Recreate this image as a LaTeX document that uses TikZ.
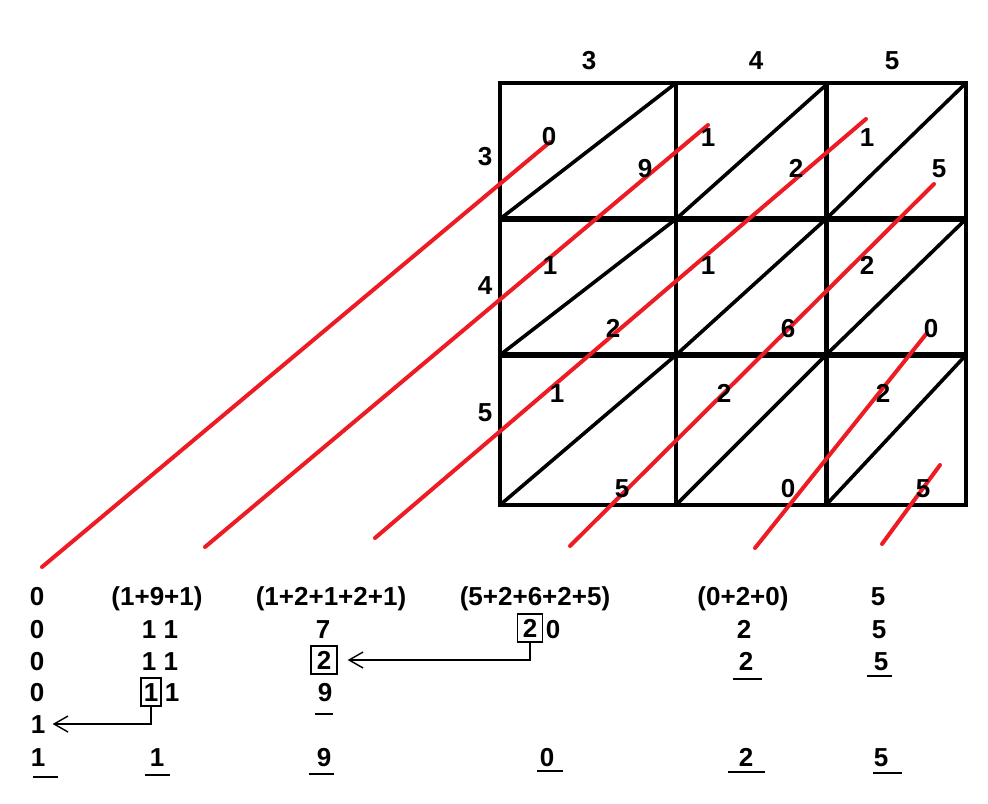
\documentclass[tikz,border=0pt]{standalone}
\usepackage{fontspec}
\setmainfont{Liberation Sans}
\usetikzlibrary{arrows.meta}
\definecolor{paintred}{RGB}{237,28,36}

\begin{document}
\begin{tikzpicture}[x=0.5pt,y=-0.5pt]
\tikzset{digit/.style = {font=\bfseries\fontsize{13}{15}\selectfont, inner sep=0pt, text height=9.3pt, text depth=0pt}}
\tikzset{boxed/.style = {digit, draw, line width=0.7pt, minimum height=14pt}}
\tikzset{edge/.style = {line width=0.7pt, ->, > = {Straight Barb[length=7pt,width=8pt]}}}
\tikzset{grid/.style = {line width=2pt}}
\tikzset{diag/.style = {line width=1.8pt}}
\tikzset{carry/.style = {line width=2pt, paintred, line cap=round}}
\tikzset{under/.style = {line width=0.7pt}}
\useasboundingbox (0,0) rectangle (988,803);
% lattice
\draw[grid] (500,83) rectangle (966,505);
\draw[grid] (676,83) -- (676,505);
\draw[grid, line width=2.5pt] (826,83) -- (826,505);
\draw[grid, line width=3pt] (500,219) -- (966,219);
\draw[grid, line width=3pt] (500,355) -- (966,355);
\draw[diag] (500,219) -- (676,83);
\draw[diag] (676,219) -- (826,85);
\draw[diag] (826,219) -- (966,83);
\draw[diag] (500,355) -- (676,219);
\draw[diag] (676,355) -- (826,219);
\draw[diag] (826,355) -- (966,219);
\draw[diag] (500,505) -- (676,355);
\draw[diag] (676,505) -- (826,355);
\draw[diag] (826,505) -- (966,355);
% diagonal sums
\draw[carry] (42,567) -- (550,142);
\draw[carry] (205,547) -- (708,125);
\draw[carry] (375,538) -- (866,119);
\draw[carry] (570,546) -- (934,184);
\draw[carry] (755,548) -- (927,333);
\draw[carry] (882,544) -- (940,465);
% factors
\node[digit](t3) at (589,60) {3};
\node[digit](t4) at (756,60) {4};
\node[digit](t5) at (892,60) {5};
\node[digit](l3) at (485,156) {3};
\node[digit](l4) at (485,285) {4};
\node[digit](l5) at (485,412) {5};
% cells
\node[digit](p11a) at (549,136) {0};
\node[digit](p11b) at (645,168) {9};
\node[digit](p12a) at (708,137) {1};
\node[digit](p12b) at (796,168) {2};
\node[digit](p13a) at (867,137) {1};
\node[digit](p13b) at (939,168) {5};
\node[digit](p21a) at (550,265) {1};
\node[digit](p21b) at (613,328) {2};
\node[digit](p22a) at (708,265) {1};
\node[digit](p22b) at (788,328) {6};
\node[digit](p23a) at (867,265) {2};
\node[digit](p23b) at (931,328) {0};
\node[digit](p31a) at (557,393) {1};
\node[digit](p31b) at (622,488) {5};
\node[digit](p32a) at (724,393) {2};
\node[digit](p32b) at (788,488) {0};
\node[digit](p33a) at (883,393) {2};
\node[digit](p33b) at (923,488) {5};
% sums
\node[digit](a1) at (37,596) {0};
\node[digit](a2) at (37,629) {0};
\node[digit](a3) at (37,661) {0};
\node[digit](a4) at (37,692) {0};
\node[digit](a5) at (38,724) {1};
\node[digit](a6) at (38,757) {1};
\node[digit](b1) at (157,596) {(1+9+1)};
\node[digit](b2) at (160,629) {1 1};
\node[digit](b3) at (160,661) {1 1};
\node[boxed, minimum width=10pt](b4) at (151,692) {1};
\node[digit](b4r) at (172,692) {1};
\node[digit](b6) at (157,757) {1};
\node[digit](c1) at (331,596) {(1+2+1+2+1)};
\node[digit](c2) at (323,629) {7};
\node[boxed, minimum width=13pt](c3) at (324,660) {2};
\node[digit](c4) at (325,692) {9};
\node[digit](c6) at (324,757) {9};
\node[digit](d1) at (535,596) {(5+2+6+2+5)};
\node[boxed, minimum width=12.5pt](d2) at (530,628) {2};
\node[digit](d2r) at (553,629) {0};
\node[digit](d6) at (547,757) {0};
\node[digit](e1) at (743,596) {(0+2+0)};
\node[digit](e2) at (744,629) {2};
\node[digit](e3) at (746,661) {2};
\node[digit](e6) at (746,757) {2};
\node[digit](f1) at (878,596) {5};
\node[digit](f2) at (879,629) {5};
\node[digit](f3) at (881,661) {5};
\node[digit](f6) at (881,757) {5};
\draw[under] (733,679) -- (762,679);
\draw[under] (867,676) -- (892,676);
\draw[under] (315,714) -- (333,714);
\draw[under] (33,777) -- (58,777);
\draw[under] (145,775) -- (170,775);
\draw[under] (309,774) -- (334,774);
\draw[under] (537,771) -- (563,771);
\draw[under] (728,772) -- (765,772);
\draw[under] (873,773) -- (902,773);
% carries
\draw[edge] (b4.south) |- ([xshift=3.5pt]a5.east);
\draw[edge] (d2.south) |- ([xshift=5pt]c3.east);
\end{tikzpicture}
\end{document}
